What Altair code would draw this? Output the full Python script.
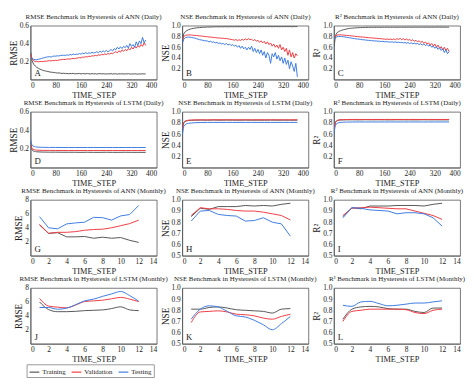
import altair as alt
import pandas as pd

SERIES = ["Training", "Validation", "Testing"]
COLORS = ["#555555", "#ef3b43", "#3d7be0"]
FONT = "Liberation Serif"

# ---- daily time steps ----
X_DAILY = [1] + list(range(5, 366, 5))
X_LSTM = [1, 3, 5, 8, 12, 16, 20, 30, 40, 60, 80, 100, 120, 140, 160, 180, 200,
          220, 240, 260, 280, 300, 320, 340, 365]
X_MONTH = [1, 2, 3, 4, 5, 6, 7, 8, 9, 10, 11, 12]

# A: RMSE ANN daily
A_train = [0.30, 0.21, 0.17, 0.15, 0.135, 0.125, 0.115, 0.11, 0.10, 0.098, 0.092, 0.09, 0.085, 0.082,
           0.08, 0.078, 0.075, 0.072, 0.074, 0.07, 0.068,
           0.07, 0.066, 0.068, 0.064, 0.067, 0.065, 0.069, 0.063, 0.066, 0.064,
           0.068, 0.062, 0.066, 0.065, 0.063, 0.067, 0.064, 0.062, 0.066, 0.063,
           0.065, 0.061, 0.064, 0.066, 0.062, 0.065, 0.063, 0.061, 0.064, 0.062,
           0.066, 0.061, 0.063, 0.065, 0.06, 0.064, 0.062, 0.065, 0.061, 0.063,
           0.062, 0.066, 0.06, 0.063, 0.061, 0.064, 0.062, 0.06, 0.063, 0.061,
           0.064, 0.062, 0.063]
A_val = [0.28, 0.23, 0.21, 0.20, 0.20, 0.198, 0.20, 0.202, 0.20, 0.205, 0.203, 0.208, 0.21, 0.207,
         0.212, 0.21, 0.215, 0.212, 0.218, 0.22, 0.222,
         0.225, 0.222, 0.228, 0.23, 0.227, 0.233, 0.235, 0.232, 0.238, 0.24,
         0.245, 0.24, 0.25, 0.248, 0.255, 0.252, 0.26, 0.256, 0.265, 0.262,
         0.27, 0.265, 0.275, 0.27, 0.28, 0.275, 0.285, 0.278, 0.29, 0.283,
         0.295, 0.288, 0.30, 0.31, 0.298, 0.32, 0.305, 0.33, 0.315, 0.335,
         0.32, 0.345, 0.33, 0.36, 0.34, 0.37, 0.35, 0.38, 0.36, 0.39,
         0.37, 0.41, 0.38]
A_test = [0.25, 0.235, 0.225, 0.22, 0.222, 0.225, 0.23, 0.235, 0.24, 0.245, 0.25, 0.252, 0.255, 0.25,
          0.258, 0.262, 0.26, 0.265, 0.262, 0.27, 0.268,
          0.272, 0.268, 0.275, 0.27, 0.28, 0.274, 0.285, 0.278, 0.283, 0.28,
          0.29, 0.282, 0.295, 0.287, 0.30, 0.29, 0.298, 0.292, 0.305, 0.295,
          0.30, 0.31, 0.298, 0.315, 0.305, 0.32, 0.308, 0.325, 0.31, 0.32,
          0.335, 0.318, 0.345, 0.33, 0.36, 0.34, 0.365, 0.345, 0.37, 0.355,
          0.38, 0.35, 0.40, 0.37, 0.39, 0.36, 0.42, 0.38, 0.43, 0.40,
          0.47, 0.41, 0.44]

# B: NSE ANN daily
B_train = [0.70, 0.85, 0.89, 0.91, 0.925, 0.935, 0.945, 0.95, 0.955, 0.96, 0.962, 0.965, 0.967, 0.97,
           0.972, 0.973, 0.975, 0.975, 0.976, 0.977, 0.978,
           0.979, 0.98, 0.978, 0.981, 0.98, 0.979, 0.982, 0.98, 0.981, 0.979,
           0.982, 0.98, 0.981, 0.983, 0.98, 0.982, 0.981, 0.983, 0.98, 0.982,
           0.981, 0.983, 0.982, 0.98, 0.983, 0.981, 0.984, 0.982, 0.98, 0.983,
           0.982, 0.984, 0.981, 0.983, 0.982, 0.984, 0.981, 0.983, 0.984, 0.982,
           0.983, 0.981, 0.984, 0.982, 0.983, 0.985, 0.982, 0.984, 0.983, 0.981,
           0.984, 0.982, 0.983]
B_val = [0.74, 0.80, 0.82, 0.825, 0.83, 0.828, 0.825, 0.822, 0.82, 0.818, 0.815, 0.81, 0.808, 0.805,
         0.80, 0.798, 0.795, 0.79, 0.788, 0.785, 0.78,
         0.778, 0.775, 0.77, 0.772, 0.765, 0.768, 0.76, 0.762, 0.755, 0.75,
         0.745, 0.74, 0.73, 0.745, 0.72, 0.74, 0.725, 0.75, 0.73, 0.755,
         0.735, 0.76, 0.74, 0.75, 0.72, 0.745, 0.71, 0.73, 0.69, 0.72,
         0.68, 0.71, 0.66, 0.70, 0.65, 0.68, 0.62, 0.66, 0.60, 0.64,
         0.58, 0.65, 0.55, 0.60, 0.52, 0.58, 0.45, 0.55, 0.42, 0.50,
         0.40, 0.48, 0.44]
B_test = [0.68, 0.75, 0.78, 0.785, 0.79, 0.785, 0.78, 0.775, 0.77, 0.76, 0.75, 0.74, 0.735, 0.73,
          0.72, 0.72, 0.715, 0.70, 0.71, 0.69, 0.70,
          0.68, 0.69, 0.67, 0.68, 0.66, 0.67, 0.65, 0.67, 0.64, 0.66,
          0.63, 0.65, 0.62, 0.64, 0.60, 0.63, 0.58, 0.62, 0.57, 0.60,
          0.55, 0.60, 0.56, 0.62, 0.52, 0.58, 0.50, 0.56, 0.48, 0.55,
          0.45, 0.52, 0.40, 0.50, 0.45, 0.30, 0.48, 0.42, 0.50, 0.38,
          0.45, 0.35, 0.42, 0.30, 0.40, 0.28, 0.36, 0.20, 0.33, 0.25,
          0.15, 0.30, 0.05]

# C: R2 ANN daily
C_train = [0.62, 0.82, 0.87, 0.89, 0.905, 0.915, 0.925, 0.93, 0.94, 0.945, 0.95, 0.952, 0.955, 0.958,
           0.96, 0.962, 0.964, 0.965, 0.966, 0.967, 0.968,
           0.969, 0.97, 0.968, 0.971, 0.97, 0.969, 0.972, 0.97, 0.971, 0.969,
           0.972, 0.97, 0.971, 0.973, 0.97, 0.972, 0.971, 0.973, 0.97, 0.972,
           0.971, 0.973, 0.972, 0.97, 0.973, 0.971, 0.974, 0.972, 0.97, 0.973,
           0.972, 0.974, 0.971, 0.973, 0.972, 0.974, 0.971, 0.973, 0.974, 0.972,
           0.973, 0.971, 0.974, 0.972, 0.973, 0.975, 0.972, 0.974, 0.973, 0.971,
           0.974, 0.972, 0.973]
C_val = [0.78, 0.81, 0.825, 0.83, 0.83, 0.828, 0.826, 0.822, 0.82, 0.818, 0.815, 0.81, 0.808, 0.805,
         0.80, 0.798, 0.795, 0.792, 0.79, 0.787, 0.785,
         0.78, 0.778, 0.775, 0.772, 0.77, 0.768, 0.765, 0.762, 0.76, 0.758,
         0.755, 0.75, 0.748, 0.752, 0.745, 0.75, 0.742, 0.755, 0.74, 0.76,
         0.745, 0.765, 0.74, 0.76, 0.735, 0.755, 0.73, 0.745, 0.72, 0.74,
         0.71, 0.73, 0.70, 0.72, 0.69, 0.71, 0.67, 0.70, 0.66, 0.68,
         0.64, 0.67, 0.62, 0.66, 0.60, 0.64, 0.58, 0.61, 0.55, 0.60,
         0.54, 0.58, 0.52]
C_test = [0.74, 0.78, 0.795, 0.80, 0.80, 0.798, 0.795, 0.79, 0.785, 0.78, 0.775, 0.77, 0.765, 0.76,
          0.755, 0.752, 0.75, 0.745, 0.74, 0.738, 0.735,
          0.73, 0.728, 0.725, 0.72, 0.722, 0.715, 0.718, 0.71, 0.712, 0.705,
          0.71, 0.70, 0.705, 0.698, 0.70, 0.695, 0.70, 0.69, 0.698, 0.688,
          0.695, 0.685, 0.69, 0.68, 0.688, 0.675, 0.685, 0.67, 0.68, 0.665,
          0.675, 0.66, 0.67, 0.65, 0.665, 0.64, 0.66, 0.63, 0.65, 0.62,
          0.64, 0.60, 0.62, 0.58, 0.61, 0.56, 0.59, 0.54, 0.57, 0.50,
          0.55, 0.48, 0.52]

# D: RMSE LSTM daily
D_train = [0.27, 0.21, 0.19, 0.18, 0.175, 0.172, 0.17, 0.168, 0.167, 0.166, 0.166, 0.165, 0.165,
           0.165, 0.164, 0.165, 0.164, 0.164, 0.165, 0.164, 0.164, 0.165, 0.164, 0.164, 0.164]
D_val = [0.25, 0.22, 0.205, 0.198, 0.193, 0.19, 0.188, 0.186, 0.185, 0.185, 0.184, 0.184, 0.184,
         0.184, 0.184, 0.184, 0.184, 0.184, 0.184, 0.184, 0.184, 0.184, 0.184, 0.184, 0.184]
D_test = [0.30, 0.255, 0.24, 0.232, 0.226, 0.223, 0.221, 0.219, 0.218, 0.217, 0.217, 0.216, 0.216,
          0.216, 0.216, 0.216, 0.216, 0.216, 0.216, 0.216, 0.216, 0.216, 0.216, 0.216, 0.216]

# E: NSE LSTM daily
E_train = [0.64, 0.76, 0.80, 0.825, 0.835, 0.84, 0.845, 0.848, 0.85, 0.852, 0.85, 0.853, 0.85,
           0.852, 0.851, 0.85, 0.852, 0.85, 0.851, 0.85, 0.852, 0.85, 0.851, 0.85, 0.85]
E_val = [0.70, 0.78, 0.81, 0.828, 0.838, 0.845, 0.85, 0.853, 0.855, 0.856, 0.856, 0.857, 0.857,
         0.857, 0.857, 0.857, 0.857, 0.857, 0.857, 0.857, 0.857, 0.857, 0.857, 0.857, 0.857]
E_test = [0.60, 0.70, 0.74, 0.765, 0.78, 0.79, 0.795, 0.80, 0.805, 0.808, 0.81, 0.81, 0.81,
          0.81, 0.81, 0.81, 0.81, 0.81, 0.81, 0.81, 0.81, 0.81, 0.81, 0.81, 0.81]

# F: R2 LSTM daily
F_train = [0.62, 0.76, 0.81, 0.835, 0.845, 0.85, 0.853, 0.855, 0.856, 0.857, 0.855, 0.858, 0.856,
           0.857, 0.856, 0.855, 0.857, 0.856, 0.856, 0.855, 0.857, 0.856, 0.856, 0.855, 0.856]
F_val = [0.68, 0.78, 0.815, 0.835, 0.848, 0.855, 0.858, 0.86, 0.862, 0.863, 0.863, 0.863, 0.863,
         0.863, 0.863, 0.863, 0.863, 0.863, 0.863, 0.863, 0.863, 0.863, 0.863, 0.863, 0.863]
F_test = [0.62, 0.72, 0.76, 0.785, 0.798, 0.805, 0.81, 0.814, 0.816, 0.818, 0.818, 0.818, 0.818,
          0.818, 0.818, 0.818, 0.818, 0.818, 0.818, 0.818, 0.818, 0.818, 0.818, 0.818, 0.818]

# G-L: monthly
G_train = [4.4, 3.2, 3.3, 2.7, 2.7, 2.75, 2.5, 2.65, 2.5, 2.6, 2.2, 1.9]
G_val = [4.5, 3.2, 3.35, 3.35, 3.45, 3.65, 3.75, 3.8, 4.0, 4.3, 4.6, 5.1]
G_test = [5.6, 4.0, 3.85, 4.55, 4.7, 4.8, 5.5, 5.45, 5.1, 5.7, 5.9, 7.2]

H_train = [0.85, 0.925, 0.915, 0.94, 0.94, 0.94, 0.95, 0.945, 0.95, 0.945, 0.96, 0.97]
H_val = [0.86, 0.93, 0.92, 0.92, 0.915, 0.905, 0.90, 0.90, 0.89, 0.875, 0.86, 0.82]
H_test = [0.81, 0.90, 0.905, 0.87, 0.86, 0.855, 0.81, 0.815, 0.84, 0.80, 0.785, 0.675]

I_train = [0.85, 0.93, 0.92, 0.945, 0.945, 0.945, 0.95, 0.95, 0.95, 0.945, 0.96, 0.97]
I_val = [0.86, 0.925, 0.93, 0.935, 0.93, 0.925, 0.92, 0.92, 0.90, 0.88, 0.86, 0.825]
I_test = [0.84, 0.93, 0.925, 0.91, 0.905, 0.90, 0.875, 0.885, 0.885, 0.875, 0.84, 0.765]

J_train = [6.0, 4.9, 4.6, 4.6, 4.65, 4.75, 4.8, 4.85, 5.05, 5.3, 4.85, 4.75]
J_val = [6.5, 5.4, 5.25, 5.15, 5.55, 6.05, 6.15, 6.25, 6.45, 6.65, 6.4, 6.05]
J_test = [5.2, 5.2, 4.95, 5.1, 5.6, 6.15, 6.4, 6.8, 7.15, 7.5, 6.9, 6.1]

K_train = [0.81, 0.81, 0.825, 0.83, 0.82, 0.805, 0.80, 0.795, 0.79, 0.775, 0.81, 0.815]
K_val = [0.69, 0.785, 0.79, 0.795, 0.785, 0.765, 0.76, 0.75, 0.73, 0.72, 0.745, 0.765]
K_test = [0.72, 0.81, 0.84, 0.83, 0.79, 0.75, 0.74, 0.71, 0.67, 0.625, 0.68, 0.745]

L_train = [0.72, 0.81, 0.83, 0.835, 0.83, 0.815, 0.81, 0.81, 0.79, 0.78, 0.82, 0.82]
L_val = [0.70, 0.79, 0.80, 0.81, 0.81, 0.81, 0.81, 0.805, 0.78, 0.77, 0.80, 0.81]
L_test = [0.845, 0.835, 0.875, 0.88, 0.86, 0.84, 0.845, 0.855, 0.865, 0.865, 0.875, 0.885]

DAILY_XTICKS = [0, 80, 160, 240, 320, 400]
MONTH_XTICKS = [0, 2, 4, 6, 8, 10, 12, 14]

W = 129
HEIGHTS = [55, 57, 57, 57]


def panel(xs, tr, va, te, title, ytitle, ydom, yticks, yfmt, xdom, xticks, letter, h, interp="linear"):
    rows = []
    for s, ys in zip(SERIES, [tr, va, te]):
        for x, y in zip(xs, ys):
            rows.append({"x": x, "y": y, "series": s})
    df = pd.DataFrame(rows)
    lines = alt.Chart(df).mark_line(strokeWidth=1, interpolate=interp, clip=True).encode(
        x=alt.X("x:Q", scale=alt.Scale(domain=xdom, nice=False, zero=False),
                axis=alt.Axis(values=xticks, title="TIME_STEP", format="d")),
        y=alt.Y("y:Q", scale=alt.Scale(domain=ydom, nice=False, zero=False),
                axis=alt.Axis(values=yticks, title=ytitle, format=yfmt)),
        color=alt.Color("series:N", sort=SERIES,
                        scale=alt.Scale(domain=SERIES, range=COLORS),
                        legend=alt.Legend(title=None, orient="none", direction="horizontal",
                                          legendX=-4, legendY=346)),
    )
    lab = alt.Chart(pd.DataFrame({"t": [letter]})).mark_text(
        align="left", baseline="bottom", font=FONT, fontSize=9, color="#222"
    ).encode(x=alt.value(4), y=alt.value(h - 2), text="t:N")
    return alt.layer(lines, lab).properties(
        width=W, height=h,
        title=alt.TitleParams(title, fontSize=7.1, font=FONT, fontWeight="normal", offset=2, color="#222"),
    )


panels = [
    panel(X_DAILY, A_train, A_val, A_test, "RMSE Benchmark in Hysteresis of ANN (Daily)", "RMSE",
          [0, 0.6], [0.2, 0.4, 0.6], ".1f", [0, 400], DAILY_XTICKS, "A", HEIGHTS[0]),
    panel(X_DAILY, B_train, B_val, B_test, "NSE Benchmark in Hysteresis of ANN (Daily)", "NSE",
          [0, 1.0], [0.2, 0.4, 0.6, 0.8, 1.0], ".1f", [0, 400], DAILY_XTICKS, "B", HEIGHTS[0]),
    panel(X_DAILY, C_train, C_val, C_test, "R² Benchmark in Hysteresis of ANN (Daily)", "R²",
          [0, 1.0], [0.2, 0.4, 0.6, 0.8, 1.0], ".1f", [0, 400], DAILY_XTICKS, "C", HEIGHTS[0]),
    panel(X_LSTM, D_train, D_val, D_test, "RMSE Benchmark in Hysteresis of LSTM (Daily)", "RMSE",
          [0, 0.6], [0.2, 0.4, 0.6], ".1f", [0, 400], DAILY_XTICKS, "D", HEIGHTS[1]),
    panel(X_LSTM, E_train, E_val, E_test, "NSE Benchmark in Hysteresis of LSTM (Daily)", "NSE",
          [0, 1.0], [0.2, 0.4, 0.6, 0.8, 1.0], ".1f", [0, 400], DAILY_XTICKS, "E", HEIGHTS[1]),
    panel(X_LSTM, F_train, F_val, F_test, "R² Benchmark in Hysteresis of LSTM (Daily)", "R²",
          [0, 1.0], [0.2, 0.4, 0.6, 0.8, 1.0], ".1f", [0, 400], DAILY_XTICKS, "F", HEIGHTS[1]),
    panel(X_MONTH, G_train, G_val, G_test, "RMSE Benchmark in Hysteresis of ANN (Monthly)", "RMSE",
          [0, 8], [2, 4, 6, 8], "d", [0, 14], MONTH_XTICKS, "G", HEIGHTS[2]),
    panel(X_MONTH, H_train, H_val, H_test, "NSE Benchmark in Hysteresis of ANN (Monthly)", "NSE",
          [0.5, 1.0], [0.5, 0.6, 0.7, 0.8, 0.9, 1.0], ".1f", [0, 14], MONTH_XTICKS, "H", HEIGHTS[2]),
    panel(X_MONTH, I_train, I_val, I_test, "R² Benchmark in Hysteresis of ANN (Monthly)", "R²",
          [0.5, 1.0], [0.5, 0.6, 0.7, 0.8, 0.9, 1.0], ".1f", [0, 14], MONTH_XTICKS, "I", HEIGHTS[2]),
    panel(X_MONTH, J_train, J_val, J_test, "RMSE Benchmark in Hysteresis of LSTM (Monthly)", "RMSE",
          [0, 8], [2, 4, 6, 8], "d", [0, 14], MONTH_XTICKS, "J", HEIGHTS[3], "monotone"),
    panel(X_MONTH, K_train, K_val, K_test, "NSE Benchmark in Hysteresis of LSTM (Monthly)", "NSE",
          [0.5, 1.0], [0.5, 0.6, 0.7, 0.8, 0.9, 1.0], ".1f", [0, 14], MONTH_XTICKS, "K", HEIGHTS[3], "monotone"),
    panel(X_MONTH, L_train, L_val, L_test, "R² Benchmark in Hysteresis of LSTM (Monthly)", "R²",
          [0.5, 1.0], [0.5, 0.6, 0.7, 0.8, 0.9, 1.0], ".1f", [0, 14], MONTH_XTICKS, "L", HEIGHTS[3], "monotone"),
]

chart = alt.concat(*panels, columns=3, spacing={"row": 33, "column": 26}, bounds="flush").properties(
    padding=0
).configure_view(
    stroke="#555555", strokeWidth=0.8
).configure_axis(
    labelFont=FONT, titleFont=FONT, labelFontSize=7.6, labelColor="#222", titleColor="#222",
    domainColor="#555555", domainWidth=0.8, ticks=False, tickSize=0,
    grid=False, titleFontWeight="normal", labelPadding=2,
).configure_axisX(
    titleFontSize=8.5, titlePadding=2,
).configure_axisY(
    titleFontSize=9.5, titlePadding=1,
).configure_legend(
    labelFont=FONT, labelFontSize=7, labelColor="#222", symbolType="stroke", symbolSize=100,
    symbolStrokeWidth=1.2, strokeColor="#999999", padding=2, columnPadding=3, labelOffset=2,
    rowPadding=0, gridAlign="none",
)

chart.save("out.html", embed_options={"renderer": "svg", "actions": False})
